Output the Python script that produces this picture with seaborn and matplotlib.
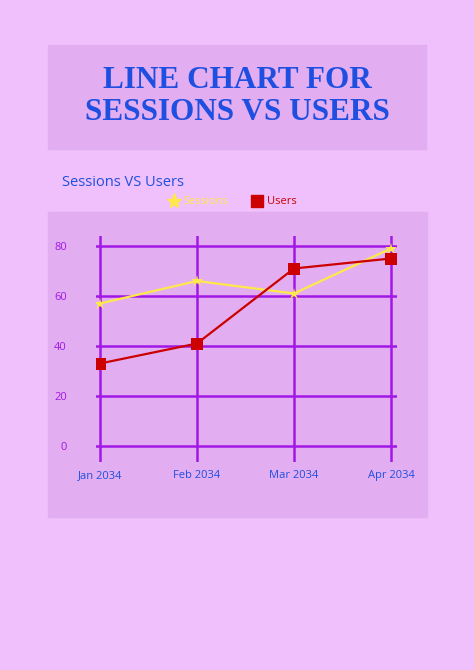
import pandas as pd
import matplotlib.pyplot as plt
import seaborn as sns
from matplotlib.patches import Rectangle
from matplotlib.lines import Line2D

months = ["Jan 2034", "Feb 2034", "Mar 2034", "Apr 2034"]
sessions = [57, 66, 61, 79]
users = [33, 41, 71, 75]
y_ticks = [0, 20, 40, 60, 80]

bg = "#EFC0FB"
panel = "#E2AEF1"
grid_c = "#A117E6"
blue = "#1F4FE0"
yellow = "#FFE84A"
red = "#CC0000"

df = pd.DataFrame({
    "month": months * 2,
    "pos": list(range(len(months))) * 2,
    "value": sessions + users,
    "series": ["Sessions"] * len(months) + ["Users"] * len(months),
})

sns.set_style("white")
plt.rcParams["font.family"] = ["Open Sans", "DejaVu Sans"]

fig = plt.figure(figsize=(4.74, 6.70), dpi=100)
fig.patch.set_facecolor(bg)

# background panels
fig.patches.append(Rectangle((48 / 474, 1 - 149 / 670), 378 / 474, 104 / 670,
                             transform=fig.transFigure, color=panel, zorder=-5))
fig.patches.append(Rectangle((48 / 474, 1 - 517 / 670), 379 / 474, 305 / 670,
                             transform=fig.transFigure, color=panel, zorder=-5))

fig.text(0.5, 1 - 80 / 670, "LINE CHART FOR", ha="center", va="center",
         fontsize=22.5, color=blue, family="Liberation Serif", weight="bold")
fig.text(0.5, 1 - 113 / 670, "SESSIONS VS USERS", ha="center", va="center",
         fontsize=22.5, color=blue, family="Liberation Serif", weight="bold")
fig.text(62 / 474, 1 - 182 / 670, "Sessions VS Users", ha="left", va="center",
         fontsize=10.5, color=blue)

ax = fig.add_axes([96 / 474, 1 - 462 / 670, 301 / 474, 226 / 670])
ax.set_zorder(2)
ax.set_facecolor("none")

sns.lineplot(data=df, x="pos", y="value", hue="series", style="series",
             palette={"Sessions": yellow, "Users": red},
             markers={"Sessions": "*", "Users": "s"}, dashes=False,
             markersize=8, markeredgewidth=0, linewidth=1.6, legend=False, ax=ax)
for ln in ax.lines:
    if ln.get_color() == yellow:
        ln.set_markersize(9)

for x in range(len(months)):
    ax.axvline(x, color=grid_c, lw=1.8, zorder=0)
for y in y_ticks:
    ax.axhline(y, color=grid_c, lw=1.8, zorder=0)

ax.set_xlim(-0.041, 3.062)
ax.set_ylim(-6.4, 84)
ax.set_xticks(range(len(months)))
ax.set_xticklabels(months)
ax.set_yticks(y_ticks)
ax.tick_params(axis="x", colors=blue, labelsize=8, length=0, pad=6)
ax.tick_params(axis="y", colors=grid_c, labelsize=8, length=0, pad=21)
for lbl in ax.get_xticklabels():
    lbl.set_color(blue)
for lbl in ax.get_yticklabels():
    lbl.set_color(grid_c)
ax.set_xlabel("")
ax.set_ylabel("")
sns.despine(ax=ax, left=True, bottom=True)

handles = [
    Line2D([], [], marker="*", color=yellow, ls="none", markersize=11),
    Line2D([], [], marker="s", color=red, ls="none", markersize=9),
]
leg = fig.legend(handles, ["Sessions", "Users"], loc="center",
                 bbox_to_anchor=(232 / 474, 1 - 202 / 670), ncol=2, frameon=False,
                 fontsize=8, handletextpad=0.3, columnspacing=2.0, handlelength=1.2)
for t, c in zip(leg.get_texts(), [yellow, red]):
    t.set_color(c)

fig.savefig("out.png", dpi=100, facecolor=bg)
